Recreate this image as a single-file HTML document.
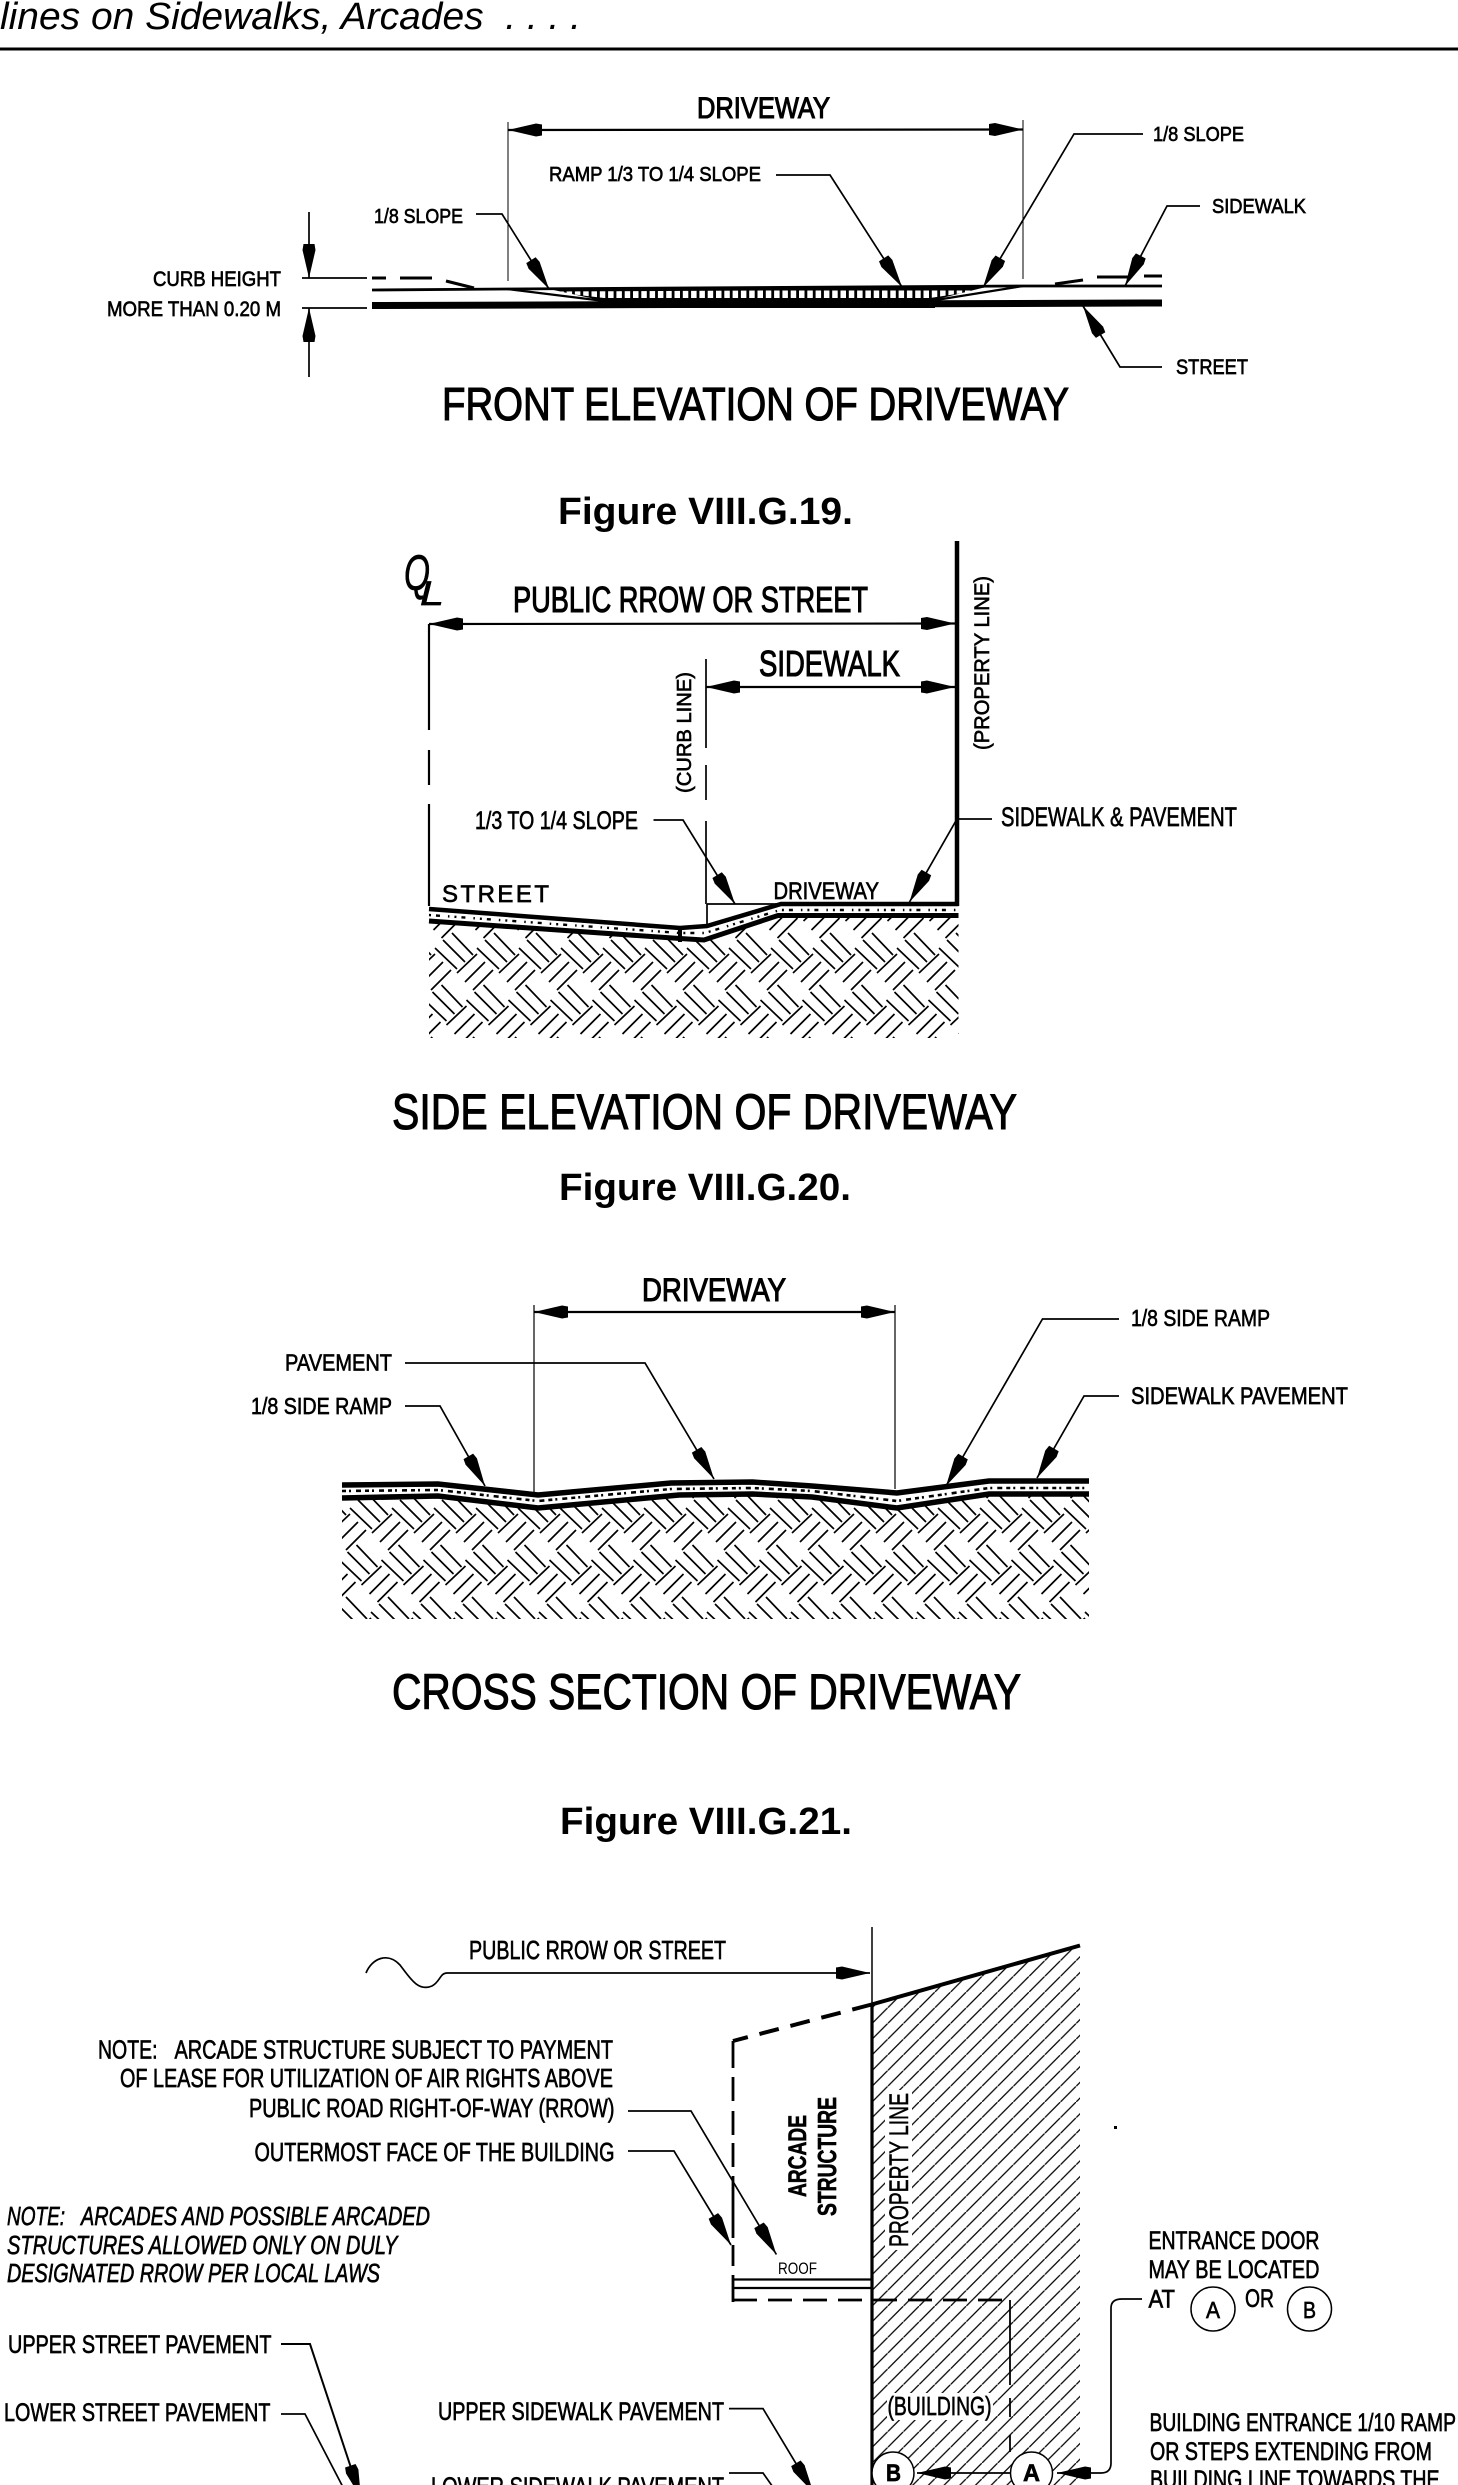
<!DOCTYPE html>
<html><head><meta charset="utf-8"><style>
html,body{margin:0;padding:0;background:#fff;width:1458px;height:2485px;overflow:hidden}
svg{display:block}
text{font-family:"Liberation Sans",sans-serif;fill:#000;stroke:#000;stroke-width:.65}
.n{stroke:none}
.t{stroke-width:1.1}
.l{fill:none;stroke:#000;stroke-width:1.7}
</style></head><body>
<svg width="1458" height="2485" viewBox="0 0 1458 2485" xmlns="http://www.w3.org/2000/svg">
<defs>
<marker id="a" markerUnits="userSpaceOnUse" markerWidth="36" markerHeight="14" viewBox="0 0 36 14" refX="35" refY="7" orient="auto-start-reverse"><path d="M1 1.5L7 .5L35 7L7 13.5L1 12.5Z" fill="#000"/></marker>
<g id="bk" stroke="#000" stroke-width="1.7" fill="none">
<path d="M23 60L45 82M32 53L53 75M15 68L37 89M45 102L65 82M37 93L57 74M53 110L73 90"/>
</g>
<g id="rw"><use href="#bk" x="-42"/><use href="#bk"/><use href="#bk" x="42"/></g>
<pattern id="brick" patternUnits="userSpaceOnUse" width="42" height="208" patternTransform="translate(420 880)">
<use href="#rw" x="21" y="-104"/><use href="#rw" x="10.5" y="-52"/><use href="#rw"/><use href="#rw" x="-10.5" y="52"/><use href="#rw" x="-21" y="104"/>
</pattern>
<pattern id="brick2" patternUnits="userSpaceOnUse" width="42" height="208" patternTransform="translate(335 1440)">
<use href="#rw" x="21" y="-104"/><use href="#rw" x="10.5" y="-52"/><use href="#rw"/><use href="#rw" x="-10.5" y="52"/><use href="#rw" x="-21" y="104"/>
</pattern>
<pattern id="diag" patternUnits="userSpaceOnUse" width="15.7" height="15.7" patternTransform="translate(872 1945)">
<path d="M-1 16.7L16.7 -1" stroke="#000" stroke-width="1.3"/>
</pattern>
<clipPath id="hc"><path d="M549 291.5L604 298H930L986 289.5Z"/></clipPath>
</defs>

<!-- header -->
<text class="n" x="0" y="29" font-size="38" font-style="italic" textLength="581" lengthAdjust="spacingAndGlyphs" xml:space="preserve">lines on Sidewalks, Arcades  . . . .</text>
<rect x="0" y="47.5" width="1458" height="3" fill="#000"/>

<!-- FIGURE 19 -->
<text x="697" y="118" font-size="30" class="t" textLength="133" lengthAdjust="spacingAndGlyphs">DRIVEWAY</text>
<path d="M508 122V281M1023 120V279" fill="none" stroke="#000" stroke-width="1"/>
<path d="M508 130L1023 129.5" class="l" style="stroke-width:2.2" marker-start="url(#a)" marker-end="url(#a)"/>
<text x="1153" y="141" font-size="20" textLength="91" lengthAdjust="spacingAndGlyphs">1/8 SLOPE</text>
<path class="l" d="M1143 134H1074L983 287.5" marker-end="url(#a)"/>
<text x="549" y="181" font-size="20" textLength="212" lengthAdjust="spacingAndGlyphs">RAMP 1/3 TO 1/4 SLOPE</text>
<path class="l" d="M776 175H830L902 287" marker-end="url(#a)"/>
<text x="374" y="223" font-size="20" textLength="89" lengthAdjust="spacingAndGlyphs">1/8 SLOPE</text>
<path class="l" d="M476 214H502L549 289" marker-end="url(#a)"/>
<text x="1212" y="213" font-size="20" textLength="94" lengthAdjust="spacingAndGlyphs">SIDEWALK</text>
<path class="l" d="M1200 206H1167L1125 286" marker-end="url(#a)"/>
<text x="153" y="286" font-size="21" textLength="128" lengthAdjust="spacingAndGlyphs">CURB HEIGHT</text>
<text x="107" y="316" font-size="21" textLength="174" lengthAdjust="spacingAndGlyphs">MORE THAN 0.20 M</text>
<path class="l" d="M309 212V278" marker-end="url(#a)"/>
<path class="l" d="M309 377V308" marker-end="url(#a)"/>
<path class="l" d="M302 278H367M302 308H367"/>
<path d="M372 278H386M400 278H432M446 281L474 288" fill="none" stroke="#000" stroke-width="3"/>
<path d="M1055 284L1083 280M1097 277H1130M1144 276H1162" fill="none" stroke="#000" stroke-width="3"/>
<!-- surface -->
<path d="M372 290L507 289L1023 286H1162" fill="none" stroke="#000" stroke-width="2.8"/>
<path d="M507 289L604 301H930L1023 286" fill="none" stroke="#000" stroke-width="2.2"/>
<path d="M549 289L986 287L930 301H604Z" fill="#000"/>
<path d="M550 295H985" fill="none" stroke="#fff" stroke-width="9" stroke-dasharray="5.5 2.8" clip-path="url(#hc)"/>
<path d="M372 305.5L1162 303" fill="none" stroke="#000" stroke-width="7"/>
<rect x="600" y="299" width="335" height="9" fill="#000"/>
<text x="1176" y="374" font-size="21" textLength="72" lengthAdjust="spacingAndGlyphs">STREET</text>
<path class="l" d="M1162 367H1120L1083 306" marker-end="url(#a)"/>
<text class="t" x="442" y="420" font-size="46" textLength="627" lengthAdjust="spacingAndGlyphs">FRONT ELEVATION OF DRIVEWAY</text>
<text class="n" x="558" y="524" font-size="38" font-weight="bold" textLength="295" lengthAdjust="spacingAndGlyphs">Figure VIII.G.19.</text>

<!-- FIGURE 20 -->
<path d="M429 921L680 938.5L704 940L778 915.5H958.5V1038H429Z" fill="url(#brick)"/>
<path d="M429 909L680 928L707 926L781 904H958.5" fill="none" stroke="#000" stroke-width="4.5"/>
<path d="M429 921L680 938.5L704 940L778 915.5H958.5" fill="none" stroke="#000" stroke-width="5"/>
<path d="M429 915L680 933L705 933L780 910H958" fill="none" stroke="#000" stroke-width="2.4" stroke-dasharray="2 5 4 8 1.5 5"/>
<path d="M680 926V942" stroke="#000" stroke-width="4"/>
<path class="l" d="M707 904H781M707 904V926"/>
<path d="M957 541V906" stroke="#000" stroke-width="4.5"/>
<path d="M429 624V730M429 750V785M429 804V906" stroke="#000" stroke-width="2.2"/>
<path class="l" d="M706 659V748M706 765V800M706 821V904"/>
<path class="l" d="M429 624L955 623.5" style="stroke-width:2.2" marker-start="url(#a)" marker-end="url(#a)"/>
<path class="l" d="M706 687L955 687" style="stroke-width:2.2" marker-start="url(#a)" marker-end="url(#a)"/>
<text x="404" y="590" font-size="50" font-style="italic" textLength="26" lengthAdjust="spacingAndGlyphs">Q</text>
<text x="420" y="605" font-size="34" font-style="italic" textLength="24" lengthAdjust="spacingAndGlyphs">L</text>
<text class="t" x="513" y="612" font-size="36" textLength="355" lengthAdjust="spacingAndGlyphs">PUBLIC RROW OR STREET</text>
<text class="t" x="759" y="676" font-size="36" textLength="141" lengthAdjust="spacingAndGlyphs">SIDEWALK</text>
<text transform="translate(691 793) rotate(-90)" font-size="20" textLength="121" lengthAdjust="spacingAndGlyphs">(CURB LINE)</text>
<text transform="translate(989 750) rotate(-90)" font-size="21" textLength="174" lengthAdjust="spacingAndGlyphs">(PROPERTY LINE)</text>
<text x="475" y="829" font-size="25" textLength="163" lengthAdjust="spacingAndGlyphs">1/3 TO 1/4 SLOPE</text>
<path class="l" d="M653.5 820H683L735 904" marker-end="url(#a)"/>
<text x="1001" y="826" font-size="27" textLength="236" lengthAdjust="spacingAndGlyphs">SIDEWALK &amp; PAVEMENT</text>
<path class="l" d="M992 819H957L909.5 902" marker-end="url(#a)"/>
<text x="773.5" y="899" font-size="24" textLength="105.5" lengthAdjust="spacingAndGlyphs">DRIVEWAY</text>
<text x="442" y="902" font-size="24" textLength="107" lengthAdjust="spacing">STREET</text>
<text class="t" x="392" y="1129" font-size="50" textLength="625" lengthAdjust="spacingAndGlyphs">SIDE ELEVATION OF DRIVEWAY</text>
<text class="n" x="559" y="1200" font-size="38" font-weight="bold" textLength="292" lengthAdjust="spacingAndGlyphs">Figure VIII.G.20.</text>

<!-- FIGURE 21 -->
<path d="M342 1498L438 1496L538 1508L679 1495L752.5 1494L812 1497L897 1508L989 1494H1089V1619H342Z" fill="url(#brick2)"/>
<path d="M342 1485L438 1484L538 1495L671 1483L752.5 1482L812 1486L897 1493L989 1481H1089" fill="none" stroke="#000" stroke-width="5.5"/>
<path d="M342 1498L438 1496L538 1508L679 1495L752.5 1494L812 1497L897 1508L989 1494H1089" fill="none" stroke="#000" stroke-width="5.5"/>
<path d="M342 1491L438 1490L538 1501L671 1489L752.5 1488L812 1491L897 1501L989 1488H1089" fill="none" stroke="#000" stroke-width="2.6" stroke-dasharray="4 3 2 5 5 4"/>
<text class="t" x="642" y="1301" font-size="32" textLength="144" lengthAdjust="spacingAndGlyphs">DRIVEWAY</text>
<path d="M534 1305V1493M895 1305V1489" fill="none" stroke="#000" stroke-width="1.2"/>
<path class="l" d="M534 1312H895" style="stroke-width:2.2" marker-start="url(#a)" marker-end="url(#a)"/>
<text x="1131" y="1326" font-size="23" textLength="139" lengthAdjust="spacingAndGlyphs">1/8 SIDE RAMP</text>
<path class="l" d="M1119 1319H1042.5L946 1486" marker-end="url(#a)"/>
<text x="1131" y="1404" font-size="24" textLength="217" lengthAdjust="spacingAndGlyphs">SIDEWALK PAVEMENT</text>
<path class="l" d="M1119 1396H1084L1037 1478" marker-end="url(#a)"/>
<text x="285" y="1370.5" font-size="23" textLength="107" lengthAdjust="spacingAndGlyphs">PAVEMENT</text>
<path class="l" d="M405 1363H645L714 1479" marker-end="url(#a)"/>
<text x="251" y="1414" font-size="23" textLength="141" lengthAdjust="spacingAndGlyphs">1/8 SIDE RAMP</text>
<path class="l" d="M405 1406H440L485 1486" marker-end="url(#a)"/>
<text class="t" x="392" y="1709" font-size="50" textLength="629" lengthAdjust="spacingAndGlyphs">CROSS SECTION OF DRIVEWAY</text>
<text class="n" x="560" y="1834" font-size="38" font-weight="bold" textLength="292" lengthAdjust="spacingAndGlyphs">Figure VIII.G.21.</text>

<!-- ARCADE -->
<path d="M872 2004.5L1080 1945.5V2490H872Z" fill="url(#diag)"/>
<rect x="885" y="2090" width="27" height="160" fill="#fff"/>
<rect x="887" y="2393" width="106" height="27" fill="#fff"/>
<text x="469" y="1959" font-size="26" textLength="257" lengthAdjust="spacingAndGlyphs">PUBLIC RROW OR STREET</text>
<path class="l" d="M366 1973C372 1958 388 1952 400 1965C410 1978 418 1992 432 1986C440 1982 440 1973 447 1973H870" marker-end="url(#a)"/>
<path d="M872 1927V2004" stroke="#000" stroke-width="1.5"/>
<path d="M872 2004V2490" stroke="#000" stroke-width="3.2"/>
<path d="M1080 1945.5L871.6 2004.5" stroke="#000" stroke-width="4"/>
<path d="M871.6 2004.5L733 2041" fill="none" stroke="#000" stroke-width="4" stroke-dasharray="20 12"/>
<path d="M733 2041V2068M733 2077V2101M733 2111V2135M733 2143V2167M733 2176V2238M733 2245V2266M733 2275V2302" fill="none" stroke="#000" stroke-width="2.8"/>
<path d="M733 2279.5H872M733 2288H872" stroke="#000" stroke-width="2.2"/>
<path d="M733 2300H1010" fill="none" stroke="#000" stroke-width="2.8" stroke-dasharray="24 11"/>
<path d="M1010 2300V2385M1010 2398V2417M1010 2435V2452" fill="none" stroke="#000" stroke-width="1.8"/>
<text transform="translate(806 2197) rotate(-90)" font-size="25" font-weight="bold" textLength="82" lengthAdjust="spacingAndGlyphs">ARCADE</text>
<text transform="translate(836 2216) rotate(-90)" font-size="26" font-weight="bold" textLength="119" lengthAdjust="spacingAndGlyphs">STRUCTURE</text>
<text transform="translate(908 2247) rotate(-90)" font-size="27" textLength="154" lengthAdjust="spacingAndGlyphs" style="stroke-width:.5">PROPERTY LINE</text>
<text class="n" x="778" y="2274" font-size="17" textLength="39" lengthAdjust="spacingAndGlyphs">ROOF</text>
<text x="98" y="2058.5" font-size="26" textLength="59.5" lengthAdjust="spacingAndGlyphs">NOTE:</text>
<text x="174.5" y="2058.5" font-size="26" textLength="438.5" lengthAdjust="spacingAndGlyphs">ARCADE STRUCTURE SUBJECT TO PAYMENT</text>
<text x="120" y="2087" font-size="26" textLength="493" lengthAdjust="spacingAndGlyphs">OF LEASE FOR UTILIZATION OF AIR RIGHTS ABOVE</text>
<text x="249" y="2117" font-size="26" textLength="365.5" lengthAdjust="spacingAndGlyphs">PUBLIC ROAD RIGHT-OF-WAY (RROW)</text>
<path class="l" d="M628 2111H691L776.4 2254.5" marker-end="url(#a)"/>
<text x="254.5" y="2161" font-size="26" textLength="360" lengthAdjust="spacingAndGlyphs">OUTERMOST FACE OF THE BUILDING</text>
<path class="l" d="M628 2151H674L731 2245" marker-end="url(#a)"/>
<text x="7" y="2225" font-size="26" font-style="italic" textLength="58" lengthAdjust="spacingAndGlyphs">NOTE:</text>
<text x="81" y="2225" font-size="26" font-style="italic" textLength="349" lengthAdjust="spacingAndGlyphs">ARCADES AND POSSIBLE ARCADED</text>
<text x="7" y="2254" font-size="26" font-style="italic" textLength="390.5" lengthAdjust="spacingAndGlyphs">STRUCTURES ALLOWED ONLY ON DULY</text>
<text x="7" y="2282" font-size="26" font-style="italic" textLength="373" lengthAdjust="spacingAndGlyphs">DESIGNATED RROW PER LOCAL LAWS</text>
<text x="8" y="2353" font-size="25" textLength="263.5" lengthAdjust="spacingAndGlyphs">UPPER STREET PAVEMENT</text>
<path class="l" d="M281 2344H310L361 2498" style="stroke-width:2" marker-end="url(#a)"/>
<text x="4" y="2421" font-size="25" textLength="266.5" lengthAdjust="spacingAndGlyphs">LOWER STREET PAVEMENT</text>
<path class="l" d="M281 2414H305L345 2491"/>
<text x="438" y="2420" font-size="25" textLength="286" lengthAdjust="spacingAndGlyphs">UPPER SIDEWALK PAVEMENT</text>
<path class="l" d="M729 2408.6H763L813.4 2492.5" marker-end="url(#a)"/>
<text x="431" y="2495" font-size="25" textLength="293" lengthAdjust="spacingAndGlyphs">LOWER SIDEWALK PAVEMENT</text>
<path class="l" d="M729 2473H763L775 2490"/>
<text x="1148.5" y="2249" font-size="25" textLength="171" lengthAdjust="spacingAndGlyphs">ENTRANCE DOOR</text>
<text x="1148.5" y="2278" font-size="25" textLength="171" lengthAdjust="spacingAndGlyphs">MAY BE LOCATED</text>
<text x="1148.5" y="2307.5" font-size="25" textLength="26.5" lengthAdjust="spacingAndGlyphs">AT</text>
<circle cx="1213" cy="2309" r="22" fill="#fff" stroke="#000" stroke-width="1.5"/>
<text x="1206" y="2318" font-size="23" textLength="14" lengthAdjust="spacingAndGlyphs">A</text>
<text x="1245" y="2307" font-size="25" textLength="29" lengthAdjust="spacingAndGlyphs">OR</text>
<circle cx="1309.5" cy="2309" r="22" fill="#fff" stroke="#000" stroke-width="1.5"/>
<text x="1303" y="2318" font-size="23" textLength="13" lengthAdjust="spacingAndGlyphs">B</text>
<path class="l" d="M1142 2299H1122Q1111 2299 1111 2308V2463Q1111 2473 1101 2473H1057" marker-end="url(#a)"/>
<text x="887.5" y="2415" font-size="26" textLength="104" lengthAdjust="spacingAndGlyphs">(BUILDING)</text>
<path class="l" d="M1011 2473H917" marker-end="url(#a)"/>
<circle cx="893" cy="2473" r="21" fill="#fff" stroke="#000" stroke-width="1.5"/>
<text x="886" y="2481" font-size="24" font-weight="bold" textLength="15" lengthAdjust="spacingAndGlyphs">B</text>
<circle cx="1031.5" cy="2473" r="21" fill="#fff" stroke="#000" stroke-width="1.5"/>
<text x="1023" y="2481" font-size="24" font-weight="bold" textLength="17" lengthAdjust="spacingAndGlyphs">A</text>
<text x="1149.5" y="2431" font-size="25" textLength="306.5" lengthAdjust="spacingAndGlyphs">BUILDING ENTRANCE 1/10 RAMP</text>
<text x="1150" y="2460" font-size="25" textLength="282" lengthAdjust="spacingAndGlyphs">OR STEPS EXTENDING FROM</text>
<text x="1150" y="2488" font-size="25" textLength="289.5" lengthAdjust="spacingAndGlyphs">BUILDING LINE TOWARDS THE</text>
<rect x="1114" y="2126" width="3" height="3" fill="#000"/>
</svg>
</body></html>
